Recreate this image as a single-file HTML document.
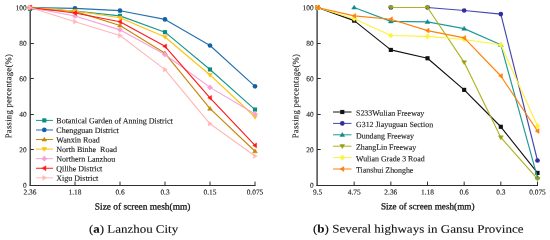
<!DOCTYPE html>
<html><head><meta charset="utf-8"><style>
html,body{margin:0;padding:0;background:#fff;}
svg{display:block;will-change:transform;}
text{text-rendering:geometricPrecision;font-family:"Liberation Serif",serif;fill:#1a1a1a;stroke:#1a1a1a;stroke-width:0.12px;}
.tk{font-size:7.4px;}
.lg{font-size:8px;}
.at{font-size:9.4px;fill:#111;stroke:#111;stroke-width:0.26px;}
.cap{font-size:11.5px;fill:#111;}
</style></head><body>
<svg width="550" height="240" viewBox="0 0 550 240">
<line x1="30.2" y1="149.50" x2="33.8" y2="149.50" stroke="#2e2e2e" stroke-width="1"/><line x1="30.2" y1="114.50" x2="33.8" y2="114.50" stroke="#2e2e2e" stroke-width="1"/><line x1="30.2" y1="78.50" x2="33.8" y2="78.50" stroke="#2e2e2e" stroke-width="1"/><line x1="30.2" y1="43.50" x2="33.8" y2="43.50" stroke="#2e2e2e" stroke-width="1"/><line x1="30.2" y1="7.50" x2="33.8" y2="7.50" stroke="#2e2e2e" stroke-width="1"/><text x="26.7" y="187.70" transform="rotate(0.1 26.7 187.70)" text-anchor="end" class="tk">0</text><text x="26.7" y="152.20" transform="rotate(0.1 26.7 152.20)" text-anchor="end" class="tk">20</text><text x="26.7" y="116.70" transform="rotate(0.1 26.7 116.70)" text-anchor="end" class="tk">40</text><text x="26.7" y="81.20" transform="rotate(0.1 26.7 81.20)" text-anchor="end" class="tk">60</text><text x="26.7" y="45.70" transform="rotate(0.1 26.7 45.70)" text-anchor="end" class="tk">80</text><text x="26.7" y="10.20" transform="rotate(0.1 26.7 10.20)" text-anchor="end" class="tk">100</text><text x="30.00" y="194.6" transform="rotate(0.1 30.00 194.6)" text-anchor="middle" class="tk">2.36</text><line x1="75.00" y1="185.5" x2="75.00" y2="181.6" stroke="#2e2e2e" stroke-width="1"/><text x="75.00" y="194.6" transform="rotate(0.1 75.00 194.6)" text-anchor="middle" class="tk">1.18</text><line x1="120.00" y1="185.5" x2="120.00" y2="181.6" stroke="#2e2e2e" stroke-width="1"/><text x="120.00" y="194.6" transform="rotate(0.1 120.00 194.6)" text-anchor="middle" class="tk">0.6</text><line x1="165.00" y1="185.5" x2="165.00" y2="181.6" stroke="#2e2e2e" stroke-width="1"/><text x="165.00" y="194.6" transform="rotate(0.1 165.00 194.6)" text-anchor="middle" class="tk">0.3</text><line x1="210.00" y1="185.5" x2="210.00" y2="181.6" stroke="#2e2e2e" stroke-width="1"/><text x="210.00" y="194.6" transform="rotate(0.1 210.00 194.6)" text-anchor="middle" class="tk">0.15</text><line x1="255.00" y1="185.5" x2="255.00" y2="181.6" stroke="#2e2e2e" stroke-width="1"/><text x="255.00" y="194.6" transform="rotate(0.1 255.00 194.6)" text-anchor="middle" class="tk">0.075</text><line x1="30.2" y1="8.00" x2="30.2" y2="186" stroke="#2e2e2e" stroke-width="1.3"/><line x1="29.599999999999998" y1="185.5" x2="255.5" y2="185.5" stroke="#2e2e2e" stroke-width="1"/><line x1="317.1" y1="149.50" x2="320.70000000000005" y2="149.50" stroke="#2e2e2e" stroke-width="1"/><line x1="317.1" y1="114.50" x2="320.70000000000005" y2="114.50" stroke="#2e2e2e" stroke-width="1"/><line x1="317.1" y1="78.50" x2="320.70000000000005" y2="78.50" stroke="#2e2e2e" stroke-width="1"/><line x1="317.1" y1="43.50" x2="320.70000000000005" y2="43.50" stroke="#2e2e2e" stroke-width="1"/><line x1="317.1" y1="7.50" x2="320.70000000000005" y2="7.50" stroke="#2e2e2e" stroke-width="1"/><text x="313.7" y="187.70" transform="rotate(0.1 313.7 187.70)" text-anchor="end" class="tk">0</text><text x="313.7" y="152.20" transform="rotate(0.1 313.7 152.20)" text-anchor="end" class="tk">20</text><text x="313.7" y="116.70" transform="rotate(0.1 313.7 116.70)" text-anchor="end" class="tk">40</text><text x="313.7" y="81.20" transform="rotate(0.1 313.7 81.20)" text-anchor="end" class="tk">60</text><text x="313.7" y="45.70" transform="rotate(0.1 313.7 45.70)" text-anchor="end" class="tk">80</text><text x="313.7" y="10.20" transform="rotate(0.1 313.7 10.20)" text-anchor="end" class="tk">100</text><text x="317.50" y="194.6" transform="rotate(0.1 317.50 194.6)" text-anchor="middle" class="tk">9.5</text><line x1="354.17" y1="185.5" x2="354.17" y2="181.6" stroke="#2e2e2e" stroke-width="1"/><text x="354.17" y="194.6" transform="rotate(0.1 354.17 194.6)" text-anchor="middle" class="tk">4.75</text><line x1="390.83" y1="185.5" x2="390.83" y2="181.6" stroke="#2e2e2e" stroke-width="1"/><text x="390.83" y="194.6" transform="rotate(0.1 390.83 194.6)" text-anchor="middle" class="tk">2.36</text><line x1="427.50" y1="185.5" x2="427.50" y2="181.6" stroke="#2e2e2e" stroke-width="1"/><text x="427.50" y="194.6" transform="rotate(0.1 427.50 194.6)" text-anchor="middle" class="tk">1.18</text><line x1="464.17" y1="185.5" x2="464.17" y2="181.6" stroke="#2e2e2e" stroke-width="1"/><text x="464.17" y="194.6" transform="rotate(0.1 464.17 194.6)" text-anchor="middle" class="tk">0.6</text><line x1="500.83" y1="185.5" x2="500.83" y2="181.6" stroke="#2e2e2e" stroke-width="1"/><text x="500.83" y="194.6" transform="rotate(0.1 500.83 194.6)" text-anchor="middle" class="tk">0.3</text><line x1="537.50" y1="185.5" x2="537.50" y2="181.6" stroke="#2e2e2e" stroke-width="1"/><text x="537.50" y="194.6" transform="rotate(0.1 537.50 194.6)" text-anchor="middle" class="tk">0.075</text><line x1="317.1" y1="8.00" x2="317.1" y2="186" stroke="#2e2e2e" stroke-width="1.3"/><line x1="316.5" y1="185.5" x2="538.0" y2="185.5" stroke="#2e2e2e" stroke-width="1"/><path d="M30.00,8.92 L75.00,11.05 L120.00,15.84 L165.00,32.17 L210.00,69.45 L255.00,109.56" fill="none" stroke="#1a978d" stroke-width="1.15" stroke-linejoin="round"/><rect x="27.93" y="6.85" width="4.14" height="4.14" fill="#0b8c82"/><rect x="72.93" y="8.98" width="4.14" height="4.14" fill="#0b8c82"/><rect x="117.93" y="13.77" width="4.14" height="4.14" fill="#0b8c82"/><rect x="162.93" y="30.10" width="4.14" height="4.14" fill="#0b8c82"/><rect x="207.93" y="67.38" width="4.14" height="4.14" fill="#0b8c82"/><rect x="252.93" y="107.49" width="4.14" height="4.14" fill="#0b8c82"/><path d="M30.00,7.50 L75.00,8.39 L120.00,10.69 L165.00,19.39 L210.00,45.49 L255.00,86.31" fill="none" stroke="#2570b0" stroke-width="1.15" stroke-linejoin="round"/><circle cx="30.00" cy="7.50" r="2.35" fill="#1462a4"/><circle cx="75.00" cy="8.39" r="2.35" fill="#1462a4"/><circle cx="120.00" cy="10.69" r="2.35" fill="#1462a4"/><circle cx="165.00" cy="19.39" r="2.35" fill="#1462a4"/><circle cx="210.00" cy="45.49" r="2.35" fill="#1462a4"/><circle cx="255.00" cy="86.31" r="2.35" fill="#1462a4"/><path d="M30.00,7.50 L75.00,11.41 L120.00,25.43 L165.00,53.29 L210.00,108.67 L255.00,151.28" fill="none" stroke="#c8860a" stroke-width="1.15" stroke-linejoin="round"/><path d="M30.00,5.22 L32.41,9.08 L27.59,9.08Z" fill="#c8860a" stroke="#c8860a" stroke-width="0.5" stroke-linejoin="round"/><path d="M75.00,9.13 L77.41,12.98 L72.59,12.98Z" fill="#c8860a" stroke="#c8860a" stroke-width="0.5" stroke-linejoin="round"/><path d="M120.00,23.15 L122.41,27.00 L117.59,27.00Z" fill="#c8860a" stroke="#c8860a" stroke-width="0.5" stroke-linejoin="round"/><path d="M165.00,51.02 L167.41,54.87 L162.59,54.87Z" fill="#c8860a" stroke="#c8860a" stroke-width="0.5" stroke-linejoin="round"/><path d="M210.00,106.40 L212.41,110.25 L207.59,110.25Z" fill="#c8860a" stroke="#c8860a" stroke-width="0.5" stroke-linejoin="round"/><path d="M255.00,149.00 L257.41,152.85 L252.59,152.85Z" fill="#c8860a" stroke="#c8860a" stroke-width="0.5" stroke-linejoin="round"/><path d="M30.00,7.50 L75.00,11.05 L120.00,17.80 L165.00,36.97 L210.00,74.95 L255.00,117.02" fill="none" stroke="#ffc20e" stroke-width="1.15" stroke-linejoin="round"/><path d="M30.00,9.78 L32.41,5.92 L27.59,5.92Z" fill="#ffc20e" stroke="#ffc20e" stroke-width="0.5" stroke-linejoin="round"/><path d="M75.00,13.33 L77.41,9.47 L72.59,9.47Z" fill="#ffc20e" stroke="#ffc20e" stroke-width="0.5" stroke-linejoin="round"/><path d="M120.00,20.07 L122.41,16.22 L117.59,16.22Z" fill="#ffc20e" stroke="#ffc20e" stroke-width="0.5" stroke-linejoin="round"/><path d="M165.00,39.24 L167.41,35.39 L162.59,35.39Z" fill="#ffc20e" stroke="#ffc20e" stroke-width="0.5" stroke-linejoin="round"/><path d="M210.00,77.23 L212.41,73.37 L207.59,73.37Z" fill="#ffc20e" stroke="#ffc20e" stroke-width="0.5" stroke-linejoin="round"/><path d="M255.00,119.29 L257.41,115.44 L252.59,115.44Z" fill="#ffc20e" stroke="#ffc20e" stroke-width="0.5" stroke-linejoin="round"/><path d="M30.00,7.50 L75.00,16.02 L120.00,29.87 L165.00,54.54 L210.00,87.38 L255.00,114.00" fill="none" stroke="#f7a1d5" stroke-width="1.15" stroke-linejoin="round"/><path d="M30.00,4.92 L32.58,7.50 L30.00,10.08 L27.42,7.50Z" fill="#f7a1d5" stroke="#f7a1d5" stroke-width="0.5" stroke-linejoin="round"/><path d="M75.00,13.44 L77.58,16.02 L75.00,18.60 L72.42,16.02Z" fill="#f7a1d5" stroke="#f7a1d5" stroke-width="0.5" stroke-linejoin="round"/><path d="M120.00,27.29 L122.58,29.87 L120.00,32.44 L117.42,29.87Z" fill="#f7a1d5" stroke="#f7a1d5" stroke-width="0.5" stroke-linejoin="round"/><path d="M165.00,51.96 L167.58,54.54 L165.00,57.11 L162.42,54.54Z" fill="#f7a1d5" stroke="#f7a1d5" stroke-width="0.5" stroke-linejoin="round"/><path d="M210.00,84.80 L212.58,87.38 L210.00,89.95 L207.42,87.38Z" fill="#f7a1d5" stroke="#f7a1d5" stroke-width="0.5" stroke-linejoin="round"/><path d="M255.00,111.42 L257.58,114.00 L255.00,116.58 L252.42,114.00Z" fill="#f7a1d5" stroke="#f7a1d5" stroke-width="0.5" stroke-linejoin="round"/><path d="M30.00,7.50 L75.00,13.00 L120.00,21.70 L165.00,46.37 L210.00,97.85 L255.00,145.42" fill="none" stroke="#ff1a1a" stroke-width="1.15" stroke-linejoin="round"/><path d="M27.72,7.50 L31.58,5.09 L31.58,9.91Z" fill="#ff1a1a" stroke="#ff1a1a" stroke-width="0.5" stroke-linejoin="round"/><path d="M72.72,13.00 L76.58,10.59 L76.58,15.41Z" fill="#ff1a1a" stroke="#ff1a1a" stroke-width="0.5" stroke-linejoin="round"/><path d="M117.72,21.70 L121.58,19.29 L121.58,24.11Z" fill="#ff1a1a" stroke="#ff1a1a" stroke-width="0.5" stroke-linejoin="round"/><path d="M162.72,46.37 L166.58,43.96 L166.58,48.78Z" fill="#ff1a1a" stroke="#ff1a1a" stroke-width="0.5" stroke-linejoin="round"/><path d="M207.72,97.85 L211.58,95.44 L211.58,100.26Z" fill="#ff1a1a" stroke="#ff1a1a" stroke-width="0.5" stroke-linejoin="round"/><path d="M252.72,145.42 L256.58,143.01 L256.58,147.83Z" fill="#ff1a1a" stroke="#ff1a1a" stroke-width="0.5" stroke-linejoin="round"/><path d="M30.00,7.50 L75.00,21.70 L120.00,35.55 L165.00,69.62 L210.00,123.76 L255.00,156.07" fill="none" stroke="#ffb8b8" stroke-width="1.15" stroke-linejoin="round"/><path d="M32.28,7.50 L28.42,5.09 L28.42,9.91Z" fill="#ffb8b8" stroke="#ffb8b8" stroke-width="0.5" stroke-linejoin="round"/><path d="M77.28,21.70 L73.42,19.29 L73.42,24.11Z" fill="#ffb8b8" stroke="#ffb8b8" stroke-width="0.5" stroke-linejoin="round"/><path d="M122.28,35.55 L118.42,33.14 L118.42,37.95Z" fill="#ffb8b8" stroke="#ffb8b8" stroke-width="0.5" stroke-linejoin="round"/><path d="M167.28,69.62 L163.42,67.22 L163.42,72.03Z" fill="#ffb8b8" stroke="#ffb8b8" stroke-width="0.5" stroke-linejoin="round"/><path d="M212.28,123.76 L208.42,121.35 L208.42,126.17Z" fill="#ffb8b8" stroke="#ffb8b8" stroke-width="0.5" stroke-linejoin="round"/><path d="M257.28,156.07 L253.42,153.66 L253.42,158.48Z" fill="#ffb8b8" stroke="#ffb8b8" stroke-width="0.5" stroke-linejoin="round"/><path d="M317.50,7.50 L354.17,20.64 L390.83,49.92 L427.50,58.27 L464.17,89.86 L500.83,126.78 L537.50,172.93" fill="none" stroke="#111111" stroke-width="1.15" stroke-linejoin="round"/><rect x="315.43" y="5.43" width="4.14" height="4.14" fill="#111111"/><rect x="352.09" y="18.56" width="4.14" height="4.14" fill="#111111"/><rect x="388.76" y="47.85" width="4.14" height="4.14" fill="#111111"/><rect x="425.43" y="56.19" width="4.14" height="4.14" fill="#111111"/><rect x="462.09" y="87.79" width="4.14" height="4.14" fill="#111111"/><rect x="498.76" y="124.71" width="4.14" height="4.14" fill="#111111"/><rect x="535.43" y="170.86" width="4.14" height="4.14" fill="#111111"/><path d="M390.83,7.50 L427.50,7.50 L464.17,10.52 L500.83,14.07 L537.50,160.50" fill="none" stroke="#4646b2" stroke-width="1.15" stroke-linejoin="round"/><circle cx="390.83" cy="7.50" r="2.35" fill="#2e2ea2"/><circle cx="427.50" cy="7.50" r="2.35" fill="#2e2ea2"/><circle cx="464.17" cy="10.52" r="2.35" fill="#2e2ea2"/><circle cx="500.83" cy="14.07" r="2.35" fill="#2e2ea2"/><circle cx="537.50" cy="160.50" r="2.35" fill="#2e2ea2"/><path d="M354.17,7.50 L390.83,21.34 L427.50,21.88 L464.17,28.62 L500.83,44.78 L537.50,177.54" fill="none" stroke="#1e9a9a" stroke-width="1.15" stroke-linejoin="round"/><path d="M354.17,5.22 L356.57,9.08 L351.76,9.08Z" fill="#128a8a" stroke="#128a8a" stroke-width="0.5" stroke-linejoin="round"/><path d="M390.83,19.07 L393.24,22.92 L388.43,22.92Z" fill="#128a8a" stroke="#128a8a" stroke-width="0.5" stroke-linejoin="round"/><path d="M427.50,19.60 L429.91,23.45 L425.09,23.45Z" fill="#128a8a" stroke="#128a8a" stroke-width="0.5" stroke-linejoin="round"/><path d="M464.17,26.35 L466.57,30.20 L461.76,30.20Z" fill="#128a8a" stroke="#128a8a" stroke-width="0.5" stroke-linejoin="round"/><path d="M500.83,42.50 L503.24,46.35 L498.43,46.35Z" fill="#128a8a" stroke="#128a8a" stroke-width="0.5" stroke-linejoin="round"/><path d="M537.50,175.27 L539.91,179.12 L535.09,179.12Z" fill="#128a8a" stroke="#128a8a" stroke-width="0.5" stroke-linejoin="round"/><path d="M390.83,7.50 L427.50,7.50 L464.17,62.35 L500.83,137.43 L537.50,178.79" fill="none" stroke="#acb422" stroke-width="1.15" stroke-linejoin="round"/><path d="M390.83,9.78 L393.24,5.92 L388.43,5.92Z" fill="#96a010" stroke="#96a010" stroke-width="0.5" stroke-linejoin="round"/><path d="M427.50,9.78 L429.91,5.92 L425.09,5.92Z" fill="#96a010" stroke="#96a010" stroke-width="0.5" stroke-linejoin="round"/><path d="M464.17,64.62 L466.57,60.77 L461.76,60.77Z" fill="#96a010" stroke="#96a010" stroke-width="0.5" stroke-linejoin="round"/><path d="M500.83,139.71 L503.24,135.85 L498.43,135.85Z" fill="#96a010" stroke="#96a010" stroke-width="0.5" stroke-linejoin="round"/><path d="M537.50,181.06 L539.91,177.21 L535.09,177.21Z" fill="#96a010" stroke="#96a010" stroke-width="0.5" stroke-linejoin="round"/><path d="M317.50,7.50 L354.17,18.68 L390.83,35.55 L427.50,36.43 L464.17,39.45 L500.83,44.78 L537.50,126.07" fill="none" stroke="#fff23a" stroke-width="1.15" stroke-linejoin="round"/><path d="M317.50,4.92 L320.08,7.50 L317.50,10.08 L314.92,7.50Z" fill="#fff23a" stroke="#fff23a" stroke-width="0.5" stroke-linejoin="round"/><path d="M354.17,16.11 L356.74,18.68 L354.17,21.26 L351.59,18.68Z" fill="#fff23a" stroke="#fff23a" stroke-width="0.5" stroke-linejoin="round"/><path d="M390.83,32.97 L393.41,35.55 L390.83,38.12 L388.26,35.55Z" fill="#fff23a" stroke="#fff23a" stroke-width="0.5" stroke-linejoin="round"/><path d="M427.50,33.86 L430.08,36.43 L427.50,39.01 L424.92,36.43Z" fill="#fff23a" stroke="#fff23a" stroke-width="0.5" stroke-linejoin="round"/><path d="M464.17,36.87 L466.74,39.45 L464.17,42.03 L461.59,39.45Z" fill="#fff23a" stroke="#fff23a" stroke-width="0.5" stroke-linejoin="round"/><path d="M500.83,42.20 L503.41,44.78 L500.83,47.35 L498.26,44.78Z" fill="#fff23a" stroke="#fff23a" stroke-width="0.5" stroke-linejoin="round"/><path d="M537.50,123.49 L540.08,126.07 L537.50,128.65 L534.92,126.07Z" fill="#fff23a" stroke="#fff23a" stroke-width="0.5" stroke-linejoin="round"/><path d="M317.50,7.50 L354.17,15.84 L390.83,19.22 L427.50,30.58 L464.17,37.85 L500.83,76.02 L537.50,131.04" fill="none" stroke="#ff800a" stroke-width="1.15" stroke-linejoin="round"/><path d="M315.22,7.50 L319.08,5.09 L319.08,9.91Z" fill="#ff800a" stroke="#ff800a" stroke-width="0.5" stroke-linejoin="round"/><path d="M351.89,15.84 L355.74,13.43 L355.74,18.25Z" fill="#ff800a" stroke="#ff800a" stroke-width="0.5" stroke-linejoin="round"/><path d="M388.56,19.22 L392.41,16.81 L392.41,21.62Z" fill="#ff800a" stroke="#ff800a" stroke-width="0.5" stroke-linejoin="round"/><path d="M425.22,30.58 L429.08,28.17 L429.08,32.98Z" fill="#ff800a" stroke="#ff800a" stroke-width="0.5" stroke-linejoin="round"/><path d="M461.89,37.85 L465.74,35.44 L465.74,40.26Z" fill="#ff800a" stroke="#ff800a" stroke-width="0.5" stroke-linejoin="round"/><path d="M498.56,76.02 L502.41,73.61 L502.41,78.42Z" fill="#ff800a" stroke="#ff800a" stroke-width="0.5" stroke-linejoin="round"/><path d="M535.22,131.04 L539.08,128.63 L539.08,133.45Z" fill="#ff800a" stroke="#ff800a" stroke-width="0.5" stroke-linejoin="round"/><line x1="36" y1="120.40" x2="53" y2="120.40" stroke="#1a978d" stroke-width="1"/><rect x="42.23" y="118.33" width="4.14" height="4.14" fill="#0b8c82"/><text x="56.3" y="123.30" transform="rotate(0.1 56.3 123.30)" class="lg">Botanical Garden of Anning District</text><line x1="36" y1="129.97" x2="53" y2="129.97" stroke="#2570b0" stroke-width="1"/><circle cx="44.30" cy="129.97" r="2.35" fill="#1462a4"/><text x="56.3" y="132.87" transform="rotate(0.1 56.3 132.87)" class="lg">Chengguan District</text><line x1="36" y1="139.54" x2="53" y2="139.54" stroke="#c8860a" stroke-width="1"/><path d="M44.30,137.26 L46.71,141.12 L41.89,141.12Z" fill="#c8860a" stroke="#c8860a" stroke-width="0.5" stroke-linejoin="round"/><text x="56.3" y="142.44" transform="rotate(0.1 56.3 142.44)" class="lg">Wanxin Road</text><line x1="36" y1="149.11" x2="53" y2="149.11" stroke="#ffc20e" stroke-width="1"/><path d="M44.30,151.39 L46.71,147.53 L41.89,147.53Z" fill="#ffc20e" stroke="#ffc20e" stroke-width="0.5" stroke-linejoin="round"/><text x="56.3" y="152.01" transform="rotate(0.1 56.3 152.01)" class="lg">North Binhe&#160; Road</text><line x1="36" y1="158.68" x2="53" y2="158.68" stroke="#f7a1d5" stroke-width="1"/><path d="M44.30,156.10 L46.88,158.68 L44.30,161.26 L41.72,158.68Z" fill="#f7a1d5" stroke="#f7a1d5" stroke-width="0.5" stroke-linejoin="round"/><text x="56.3" y="161.58" transform="rotate(0.1 56.3 161.58)" class="lg">Northern Lanzhou</text><line x1="36" y1="168.25" x2="53" y2="168.25" stroke="#ff1a1a" stroke-width="1"/><path d="M42.02,168.25 L45.88,165.84 L45.88,170.66Z" fill="#ff1a1a" stroke="#ff1a1a" stroke-width="0.5" stroke-linejoin="round"/><text x="56.3" y="171.15" transform="rotate(0.1 56.3 171.15)" class="lg">Qilihe District</text><line x1="36" y1="177.82" x2="53" y2="177.82" stroke="#ffb8b8" stroke-width="1"/><path d="M46.58,177.82 L42.72,175.41 L42.72,180.23Z" fill="#ffb8b8" stroke="#ffb8b8" stroke-width="0.5" stroke-linejoin="round"/><text x="56.3" y="180.72" transform="rotate(0.1 56.3 180.72)" class="lg">Xigu District</text><line x1="333" y1="112.00" x2="351.5" y2="112.00" stroke="#111111" stroke-width="1"/><rect x="340.23" y="109.93" width="4.14" height="4.14" fill="#111111"/><text x="356" y="115.60" transform="rotate(0.1 356 115.60)" class="lg" style="font-size:7.9px">S233Wulian Freeway</text><line x1="333" y1="123.40" x2="351.5" y2="123.40" stroke="#4646b2" stroke-width="1"/><circle cx="342.30" cy="123.40" r="2.35" fill="#2e2ea2"/><text x="356" y="127.00" transform="rotate(0.1 356 127.00)" class="lg" style="font-size:7.9px">G312 Jiayuguan Section</text><line x1="333" y1="134.80" x2="351.5" y2="134.80" stroke="#1e9a9a" stroke-width="1"/><path d="M342.30,132.52 L344.71,136.38 L339.89,136.38Z" fill="#128a8a" stroke="#128a8a" stroke-width="0.5" stroke-linejoin="round"/><text x="356" y="138.40" transform="rotate(0.1 356 138.40)" class="lg" style="font-size:7.9px">Dundang Freeway</text><line x1="333" y1="146.20" x2="351.5" y2="146.20" stroke="#acb422" stroke-width="1"/><path d="M342.30,148.48 L344.71,144.62 L339.89,144.62Z" fill="#96a010" stroke="#96a010" stroke-width="0.5" stroke-linejoin="round"/><text x="356" y="149.80" transform="rotate(0.1 356 149.80)" class="lg" style="font-size:7.9px">ZhangLin Freeway</text><line x1="333" y1="157.60" x2="351.5" y2="157.60" stroke="#fff23a" stroke-width="1"/><path d="M342.30,155.02 L344.88,157.60 L342.30,160.18 L339.72,157.60Z" fill="#fff23a" stroke="#fff23a" stroke-width="0.5" stroke-linejoin="round"/><text x="356" y="161.20" transform="rotate(0.1 356 161.20)" class="lg" style="font-size:7.9px">Wulian Grade 3 Road</text><line x1="333" y1="169.00" x2="351.5" y2="169.00" stroke="#ff800a" stroke-width="1"/><path d="M340.02,169.00 L343.88,166.59 L343.88,171.41Z" fill="#ff800a" stroke="#ff800a" stroke-width="0.5" stroke-linejoin="round"/><text x="356" y="172.60" transform="rotate(0.1 356 172.60)" class="lg" style="font-size:7.9px">Tianshui Zhonghe</text><text x="142.6" y="209.5" transform="rotate(0.1 142.6 209.5)" text-anchor="middle" class="at">Size of screen mesh(mm)</text><text x="427.7" y="209.3" transform="rotate(0.1 427.7 209.3)" text-anchor="middle" class="at" style="font-size:9.2px">Size of screen mesh(mm)</text><text transform="translate(11.2,96.0) rotate(-89.9)" text-anchor="middle" class="at" style="font-size:8.7px;letter-spacing:0.24px;stroke-width:0.12px;fill:#1a1a1a;stroke:#1a1a1a">Passing percentage(%)</text><text transform="translate(298.4,96.0) rotate(-89.9)" text-anchor="middle" class="at" style="font-size:8.7px;letter-spacing:0.24px;stroke-width:0.12px;fill:#1a1a1a;stroke:#1a1a1a">Passing percentage(%)</text><text transform="translate(89,232.7) scale(1.125,1) rotate(0.1)" class="cap"><tspan>(</tspan><tspan font-weight="bold">a</tspan><tspan>) Lanzhou City</tspan></text><text transform="translate(313,232.5) scale(1.13,1) rotate(0.1)" class="cap"><tspan>(</tspan><tspan font-weight="bold">b</tspan><tspan>) Several highways in Gansu Province</tspan></text>
</svg>
</body></html>
